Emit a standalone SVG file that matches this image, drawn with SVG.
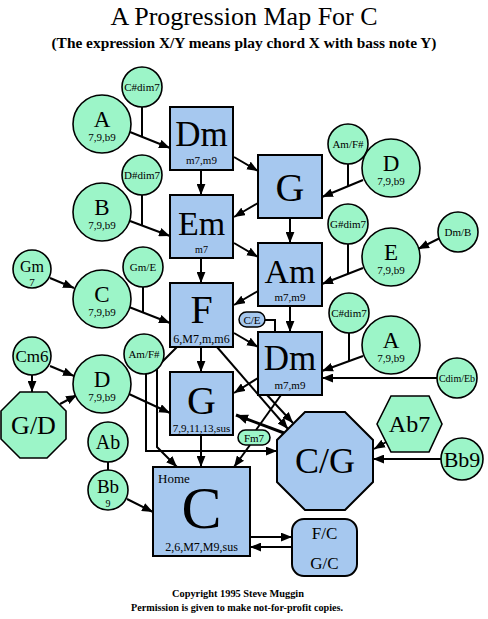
<svg xmlns="http://www.w3.org/2000/svg" width="488" height="619" viewBox="0 0 488 619">
<style>
.box{fill:#a6c8ef;stroke:#000;stroke-width:2}
.cir{fill:#9cf5c8;stroke:#000;stroke-width:1.6}
.ln{stroke:#000;stroke-width:2;fill:none}
.a{marker-end:url(#ah)}
text{font-family:"Liberation Serif","Times New Roman",serif;fill:#000;text-anchor:middle}
.s11{font-size:11px}
.s10{font-size:10px}
.s12{font-size:12px}
.big{font-size:23px}
</style>
<defs>
<marker id="ah" viewBox="0 0 10 8" refX="10" refY="4" markerWidth="11" markerHeight="9" markerUnits="userSpaceOnUse" orient="auto"><path d="M0,0 L10,4 L0,8 Z" fill="#000"/></marker>
<marker id="ahs" viewBox="0 0 10 8" refX="0" refY="4" markerWidth="12" markerHeight="10" markerUnits="userSpaceOnUse" orient="auto"><path d="M10,0 L0,4 L10,8 Z" fill="#000"/></marker>
</defs>

<g id="title">
<text x="244" y="25" style="font-size:26px">A Progression Map For C</text>
<text x="244" y="48" style="font-size:14px;font-weight:bold" textLength="385" lengthAdjust="spacingAndGlyphs">(The expression X/Y means play chord X with bass note Y)</text>
</g>

<g id="connectors">
<path class="ln a" d="M130,132 L170,148"/>
<path class="ln" d="M142,107 L142,137"/>
<path class="ln a" d="M130,221 L170,236"/>
<path class="ln" d="M142,195 L142,226"/>
<path class="ln a" d="M129,307 L170,323"/>
<path class="ln" d="M143,287 L143,313"/>
<path class="ln a" d="M50,278 L74,288"/>
<path class="ln a" d="M50,366 L74,376"/>
<path class="ln a" d="M32,375 L32,392"/>
<path class="ln a" d="M60,404 L77,395"/>
<path class="ln a" d="M129,394 L170,413"/>
<path class="ln a" d="M146,374 L146,451 L277,451"/>
<path class="ln a" d="M177,347 L157,367 L157,447 L177,467"/>
<path class="ln a" d="M201,170 L201,195"/>
<path class="ln a" d="M234,157 L258,171"/>
<path class="ln a" d="M258,203 L234,217"/>
<path class="ln a" d="M290,218 L290,243"/>
<path class="ln a" d="M234,243 L258,257"/>
<path class="ln a" d="M201,258 L201,283"/>
<path class="ln a" d="M258,291 L234,305"/>
<path class="ln a" d="M290,306 L290,332"/>
<path class="ln" d="M264,320 L275,320 L275,332"/>
<path class="ln a" d="M234,333 L258,347"/>
<path class="ln a" d="M201,347 L201,372"/>
<path class="ln a" d="M258,378 L234,393"/>
<path class="ln a" d="M217,347 L288,429"/>
<path class="ln a" d="M267,395 L293,423"/>
<path class="ln" d="M281,395 L256,430"/>
<path class="ln" style="stroke-width:3;marker-start:url(#ahs)" d="M236,415 L284,433"/>
<path class="ln a" d="M250,445 L234,467"/>
<path class="ln a" d="M201,435 L201,467"/>
<path class="ln a" d="M127,499 L153,512"/>
<path class="ln" d="M108,462 L108,470"/>
<path class="ln a" d="M250,537 L292,537"/>
<path class="ln a" d="M292,547 L250,547"/>
<path class="ln a" d="M363,180 L322,197"/>
<path class="ln" d="M348,164 L348,186"/>
<path class="ln a" d="M363,268 L322,284"/>
<path class="ln" d="M348,244 L348,274"/>
<path class="ln a" d="M440,238 L418,249"/>
<path class="ln a" d="M363,356 L322,371"/>
<path class="ln" d="M349,333 L349,361"/>
<path class="ln a" d="M437,378 L322,378"/>
<path class="ln a" d="M388,441 L374,449"/>
<path class="ln a" d="M441,459 L373,459"/>
</g>

<g id="Dm1"><rect class="box" x="170" y="107" width="63" height="63"/><text x="201.5" y="146" style="font-size:35px">Dm</text><text class="s11" x="201.5" y="164">m7,m9</text></g>
<g id="G1"><rect class="box" x="258" y="155" width="64" height="63"/><text x="290" y="201" style="font-size:40px">G</text></g>
<g id="Em"><rect class="box" x="170" y="195" width="63" height="63"/><text x="201.5" y="235" style="font-size:34px">Em</text><text class="s10" x="201.5" y="253">m7</text></g>
<g id="Am"><rect class="box" x="258" y="243" width="64" height="63"/><text x="290" y="283" style="font-size:34px">Am</text><text class="s11" x="290" y="301">m7,m9</text></g>
<g id="F"><rect class="box" x="170" y="283" width="63" height="64"/><text x="201.5" y="323" style="font-size:40px">F</text><text class="s12" x="201.5" y="343">6,M7,m,m6</text></g>
<g id="Dm2"><rect class="box" x="258" y="332" width="64" height="63"/><text x="290" y="370" style="font-size:35px">Dm</text><text class="s11" x="290" y="389">m7,m9</text></g>
<g id="G2"><rect class="box" x="170" y="372" width="63" height="63"/><text x="201.5" y="414" style="font-size:40px">G</text><text class="s11" x="201.5" y="432">7,9,11,13,sus</text></g>
<g id="C"><rect class="box" x="153" y="467" width="97" height="89"/><text x="158" y="483" style="font-size:13px;text-anchor:start">Home</text><text x="201.5" y="528" style="font-size:60px">C</text><text class="s12" x="201.5" y="551">2,6,M7,M9,sus</text></g>
<g id="CG"><polygon class="box" points="305,412 345,412 373,440 373,482 345,510 305,510 277,482 277,440"/><text x="325" y="473" style="font-size:36px">C/G</text></g>
<g id="FC"><rect class="box" x="292" y="519" width="65" height="57" rx="12"/><text x="324.5" y="539" style="font-size:17px">F/C</text><text x="324.5" y="569" style="font-size:17px">G/C</text></g>
<g id="CE"><rect class="box" style="stroke-width:1.5" x="239" y="312" width="26" height="15" rx="7.5"/><text class="s11" x="252" y="323.5">C/E</text></g>
<g id="Fm7"><rect class="cir" x="238" y="430" width="32" height="15" rx="7.5"/><text class="s11" x="254" y="441.5">Fm7</text></g>

<g id="A1"><circle class="cir" cx="102" cy="124" r="29"/><text class="big" x="102" y="127">A</text><text class="s11" x="102" y="141">7,9,b9</text></g>
<g id="Cs1"><circle class="cir" cx="142" cy="87" r="20"/><text class="s11" x="142" y="91">C#dim7</text></g>
<g id="B"><circle class="cir" cx="102" cy="212" r="29"/><text class="big" x="102" y="215">B</text><text class="s11" x="102" y="229">7,9,b9</text></g>
<g id="Ds"><circle class="cir" cx="142" cy="175" r="20"/><text class="s11" x="142" y="179">D#dim7</text></g>
<g id="GmE"><circle class="cir" cx="143" cy="267" r="20"/><text class="s11" x="143" y="271">Gm/E</text></g>
<g id="Cc"><circle class="cir" cx="102" cy="299" r="29"/><text class="big" x="102" y="302">C</text><text class="s11" x="102" y="316">7,9,b9</text></g>
<g id="Gm"><circle class="cir" cx="32" cy="269" r="19"/><text x="32" y="272" style="font-size:16px">Gm</text><text class="s11" x="32" y="286">7</text></g>
<g id="AmFs1"><circle class="cir" cx="144" cy="354" r="20"/><text class="s11" x="144" y="358">Am/F#</text></g>
<g id="D1"><circle class="cir" cx="102" cy="384" r="29"/><text class="big" x="102" y="387">D</text><text class="s11" x="102" y="401">7,9,b9</text></g>
<g id="Cm6"><circle class="cir" cx="32" cy="356" r="19"/><text x="32" y="362" style="font-size:17px">Cm6</text></g>
<g id="GD"><polygon class="cir" points="20,392 47,392 66,411 66,439 47,458 20,458 1,439 1,411"/><text x="33.5" y="434" style="font-size:26px">G/D</text></g>
<g id="Ab"><circle class="cir" cx="108" cy="442" r="20"/><text x="108" y="449" style="font-size:20px">Ab</text></g>
<g id="Bb"><circle class="cir" cx="108" cy="490" r="20"/><text x="108" y="493" style="font-size:19px">Bb</text><text class="s10" x="108" y="507">9</text></g>

<g id="AmFs2"><circle class="cir" cx="348" cy="144" r="20"/><text class="s11" x="348" y="148">Am/F#</text></g>
<g id="D2"><circle class="cir" cx="391" cy="168" r="29"/><text class="big" x="391" y="171">D</text><text class="s11" x="391" y="185">7,9,b9</text></g>
<g id="Gs"><circle class="cir" cx="348" cy="224" r="20"/><text class="s11" x="348" y="228">G#dim7</text></g>
<g id="E"><circle class="cir" cx="391" cy="257" r="29"/><text class="big" x="391" y="260">E</text><text class="s11" x="391" y="274">7,9,b9</text></g>
<g id="DmB"><circle class="cir" cx="458" cy="232" r="20"/><text class="s11" x="458" y="236">Dm/B</text></g>
<g id="Cs2"><circle class="cir" cx="349" cy="313" r="20"/><text class="s11" x="349" y="317">C#dim7</text></g>
<g id="A2"><circle class="cir" cx="391" cy="345" r="29"/><text class="big" x="391" y="348">A</text><text class="s11" x="391" y="362">7,9,b9</text></g>
<g id="CdimEb"><circle class="cir" cx="457" cy="378" r="20"/><text x="457" y="382" style="font-size:10px">Cdim/Eb</text></g>
<g id="Ab7"><polygon class="cir" points="377,424 391,396 429,396 442,424 429,452 391,452"/><text x="409.5" y="432" style="font-size:24px">Ab7</text></g>
<g id="Bb9"><circle class="cir" cx="462" cy="459" r="21"/><text x="462" y="467" style="font-size:22px">Bb9</text></g>

<g id="footer">
<text x="238" y="597" style="font-size:10px;font-weight:bold" textLength="132" lengthAdjust="spacingAndGlyphs">Copyright 1995 Steve Muggin</text>
<text x="237" y="611" style="font-size:10px;font-weight:bold" textLength="212" lengthAdjust="spacingAndGlyphs">Permission is given to make not-for-profit copies.</text>
</g>
</svg>
